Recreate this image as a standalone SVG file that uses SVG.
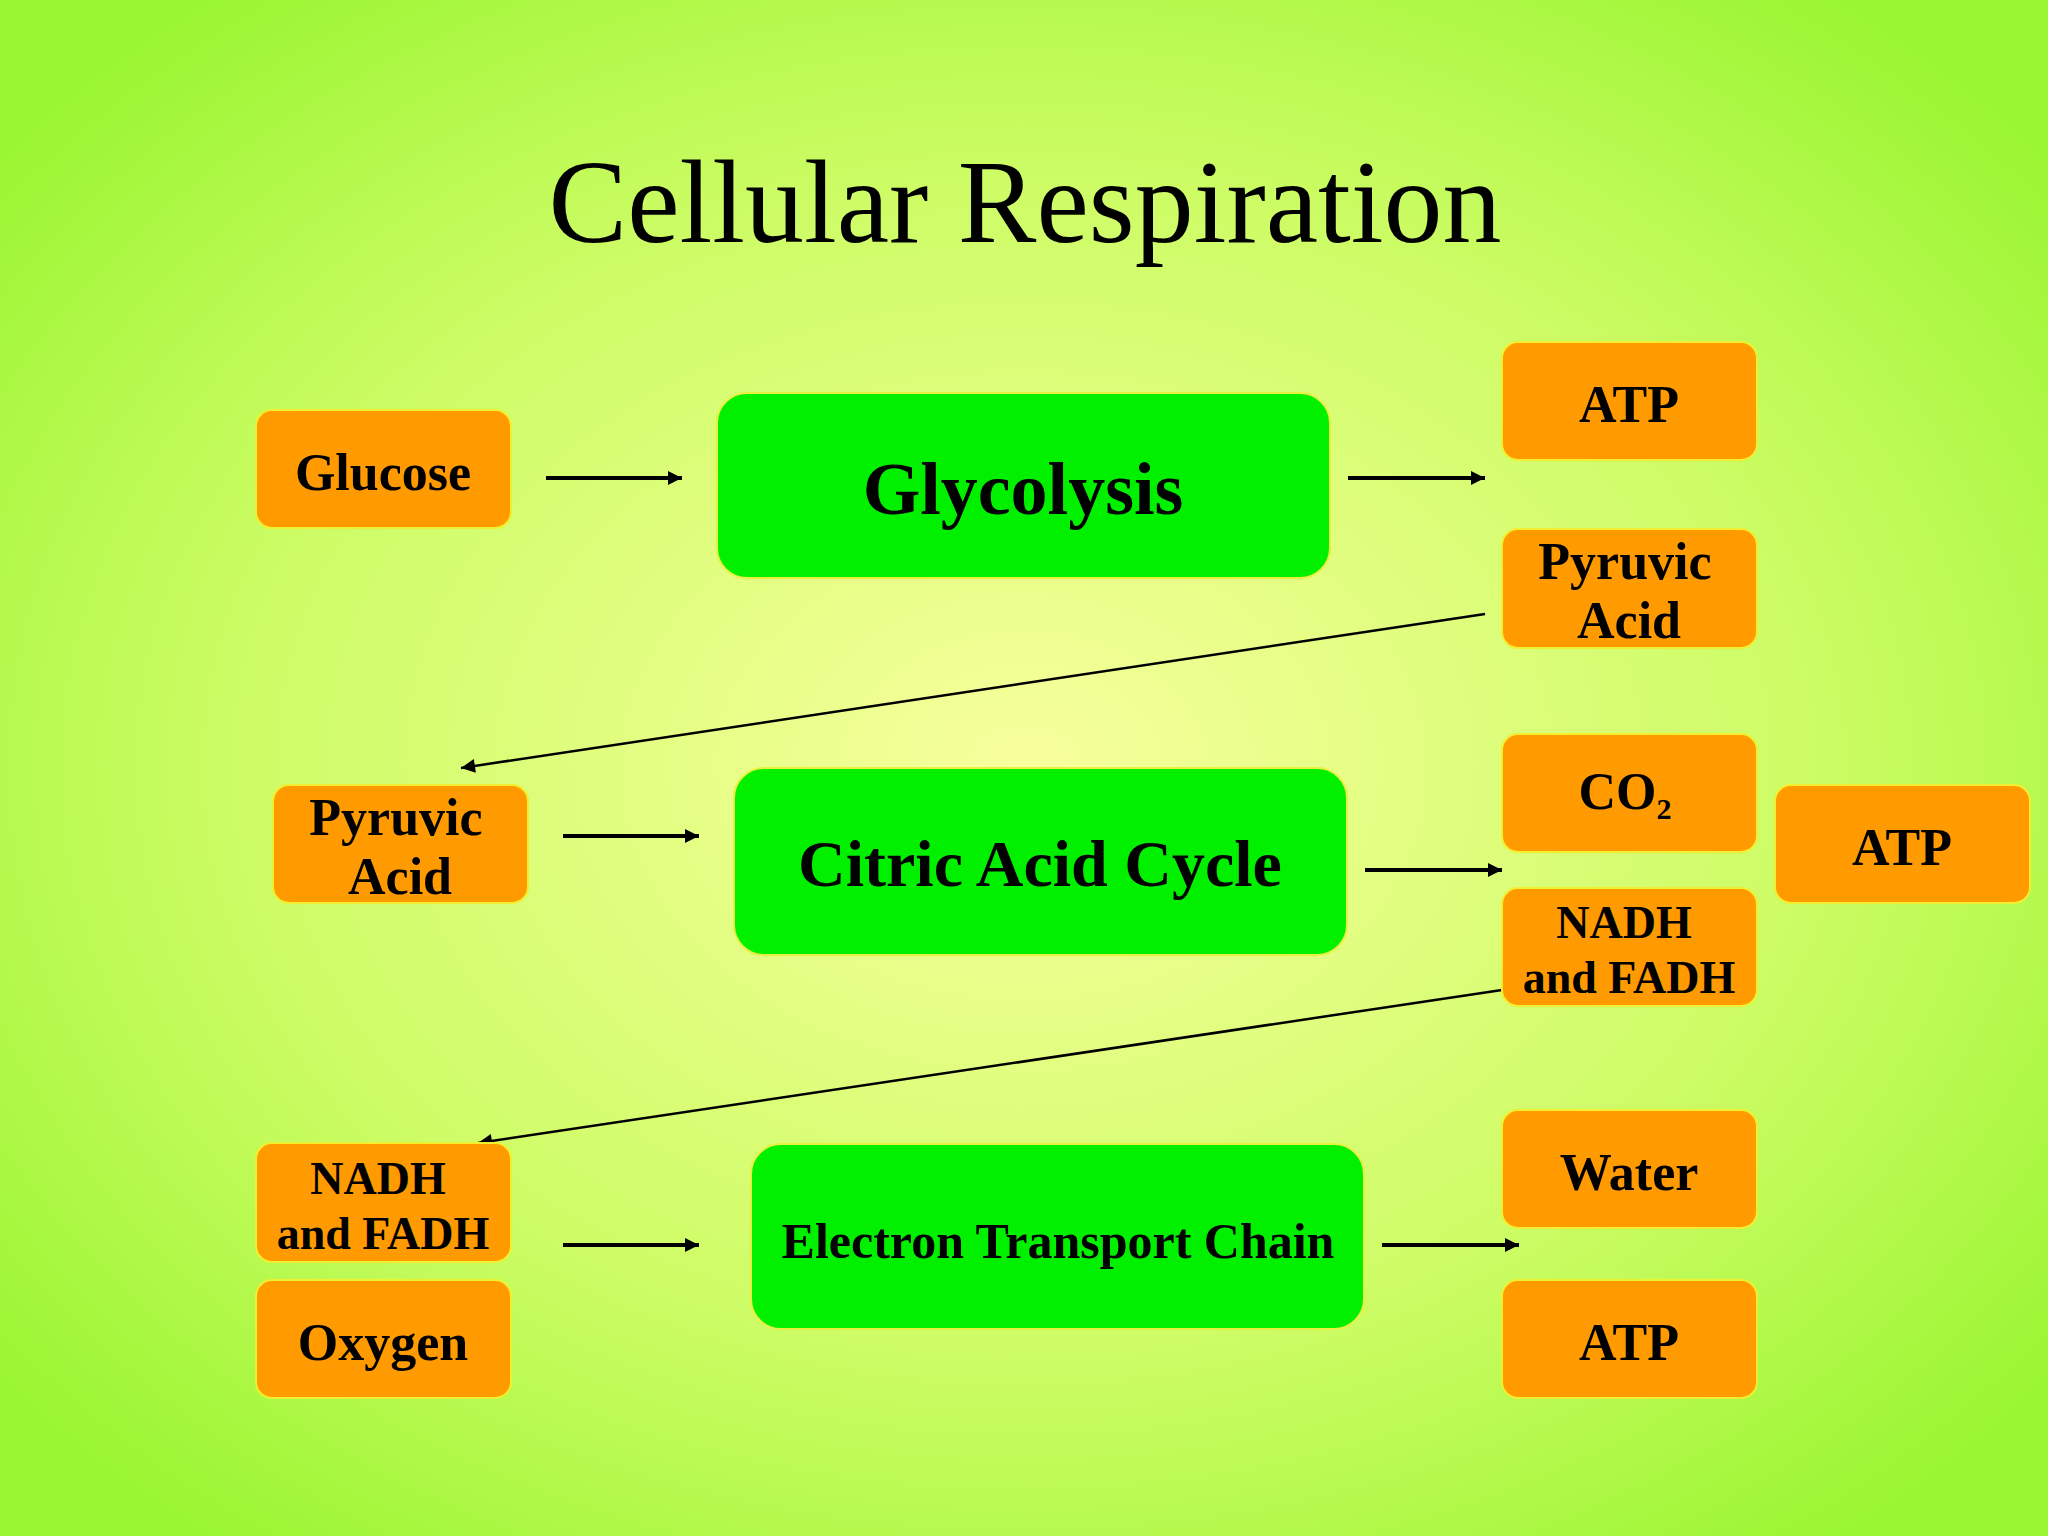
<svg xmlns="http://www.w3.org/2000/svg" width="2048" height="1536" viewBox="0 0 2048 1536">
<style>
.o{fill:#ff9a00;stroke:#f0f030;stroke-width:2}
.g{fill:#00f000;stroke:#e8f040;stroke-width:2}
text{font-family:"Liberation Serif",serif;font-weight:bold;fill:#000;text-anchor:middle}
.s{font-size:52px}
.n{font-size:46px}
.c line{stroke:#000;stroke-width:4;marker-end:url(#b)}
.c line.t{stroke-width:2.5}
</style>
<defs>
<radialGradient id="bg" cx="50%" cy="50%" r="65%">
<stop offset="0" stop-color="#f8ff9e"/><stop offset="0.6" stop-color="#ccfc64"/><stop offset="1" stop-color="#98f530"/>
</radialGradient>
<marker id="b" viewBox="0 0 10 10" refX="10" refY="5" markerWidth="20" markerHeight="14" orient="auto" markerUnits="userSpaceOnUse"><path d="M0,0L10,5L0,10z"/></marker>
</defs>
<rect width="2048" height="1536" fill="url(#bg)"/>
<text x="1025" y="242" style="font-weight:normal;font-size:118px" textLength="953" lengthAdjust="spacingAndGlyphs">Cellular Respiration</text>
<g class="c">
<line x1="546" y1="478" x2="682" y2="478"/>
<line x1="1348" y1="478" x2="1485" y2="478"/>
<line class="t" x1="1485" y1="614" x2="461" y2="768"/>
<line x1="563" y1="836" x2="699" y2="836"/>
<line x1="1365" y1="870" x2="1502" y2="870"/>
<line class="t" x1="1502" y1="990" x2="478" y2="1143"/>
<line x1="563" y1="1245" x2="699" y2="1245"/>
<line x1="1382" y1="1245" x2="1519" y2="1245"/>
</g>
<g id="glucose"><rect class="o" x="256" y="410" width="255" height="118" rx="16"/><text class="s" x="383" y="490">Glucose</text></g>
<g id="glycolysis"><rect class="g" x="717" y="393" width="613" height="185" rx="30"/><text x="1023" y="514" font-size="74">Glycolysis</text></g>
<g id="atp1"><rect class="o" x="1502" y="342" width="255" height="118" rx="16"/><text class="s" x="1629" y="422">ATP</text></g>
<g id="pyruvic1"><rect class="o" x="1502" y="529" width="255" height="119" rx="16"/><text class="s" x="1625" y="579">Pyruvic</text><text class="s" x="1629" y="638">Acid</text></g>
<g id="pyruvic2"><rect class="o" x="273" y="785" width="255" height="118" rx="16"/><text class="s" x="396" y="835">Pyruvic</text><text class="s" x="400" y="894">Acid</text></g>
<g id="citric"><rect class="g" x="734" y="768" width="613" height="187" rx="30"/><text x="1040" y="886" font-size="66">Citric Acid Cycle</text></g>
<g id="co2"><rect class="o" x="1502" y="734" width="255" height="118" rx="16"/><text class="s" x="1625" y="809">CO<tspan font-size="30" dy="10">2</tspan></text></g>
<g id="atp2"><rect class="o" x="1775" y="785" width="255" height="118" rx="16"/><text class="s" x="1902" y="865">ATP</text></g>
<g id="nadh1"><rect class="o" x="1502" y="888" width="255" height="118" rx="16"/><text class="n" x="1624" y="938">NADH</text><text class="n" x="1629" y="993">and FADH</text></g>
<g id="nadh2"><rect class="o" x="256" y="1143" width="255" height="119" rx="16"/><text class="n" x="378" y="1194">NADH</text><text class="n" x="383" y="1249">and FADH</text></g>
<g id="oxygen"><rect class="o" x="256" y="1280" width="255" height="118" rx="16"/><text class="s" x="383" y="1360">Oxygen</text></g>
<g id="etc"><rect class="g" x="751" y="1144" width="613" height="185" rx="30"/><text x="1058" y="1258" font-size="50">Electron Transport Chain</text></g>
<g id="water"><rect class="o" x="1502" y="1110" width="255" height="118" rx="16"/><text class="s" x="1629" y="1190">Water</text></g>
<g id="atp3"><rect class="o" x="1502" y="1280" width="255" height="118" rx="16"/><text class="s" x="1629" y="1360">ATP</text></g>
</svg>
